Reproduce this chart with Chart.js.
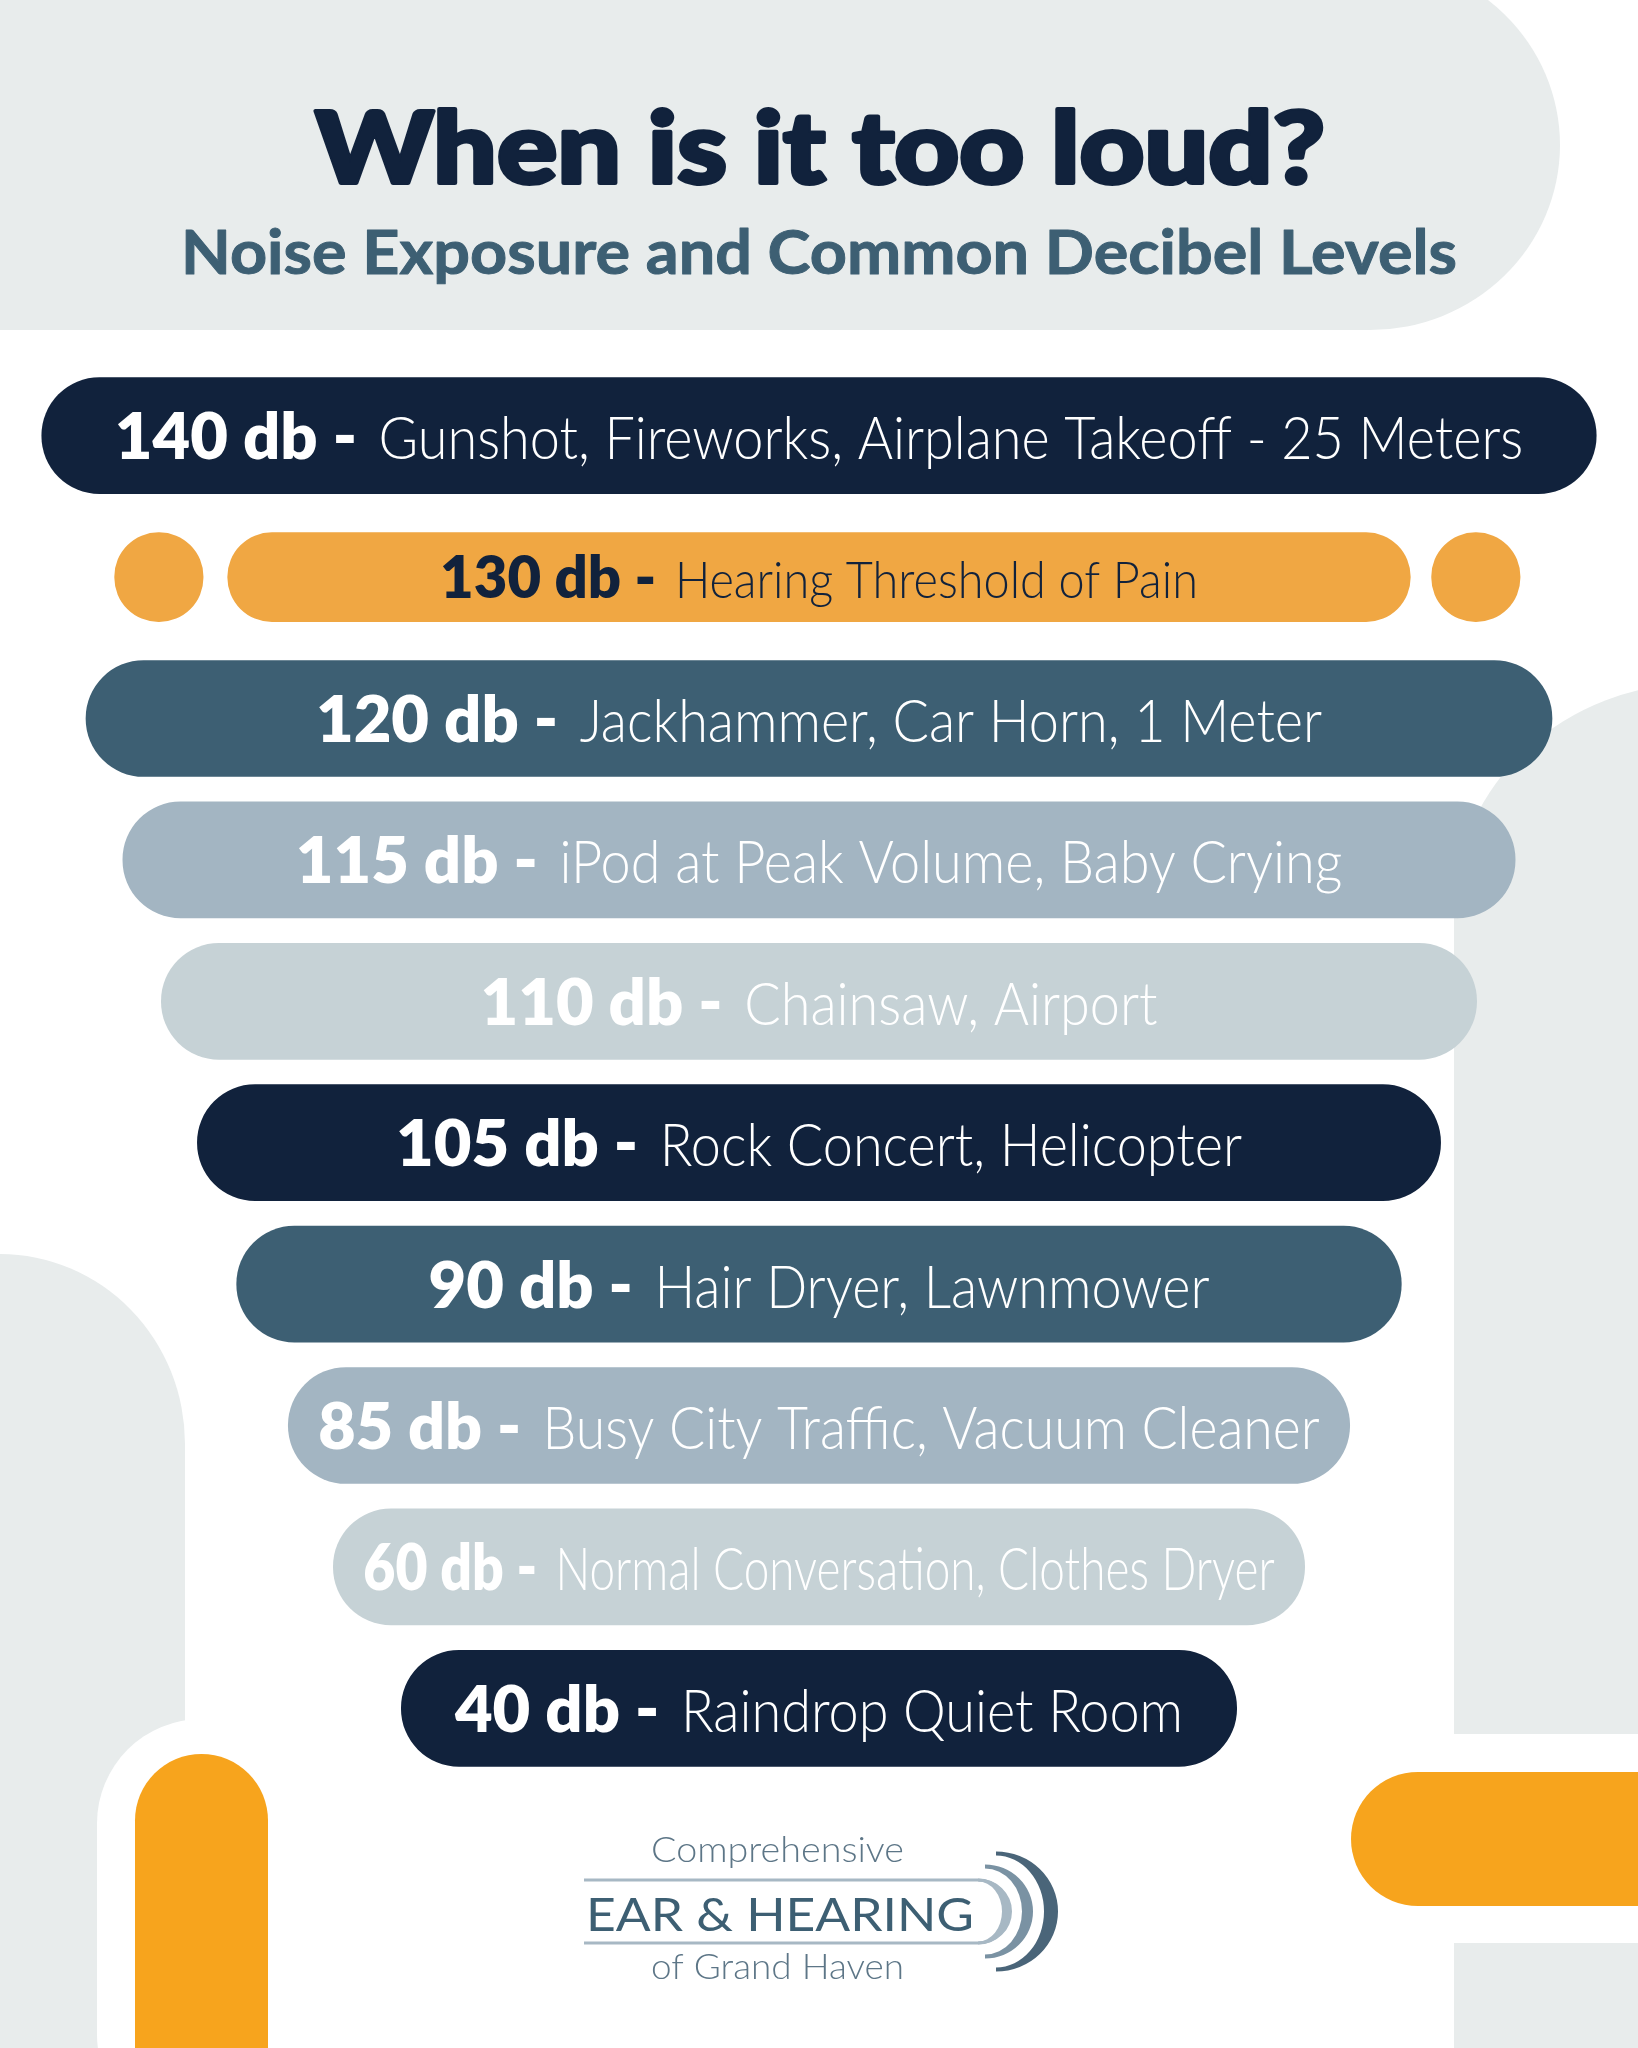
<!DOCTYPE html>
<html>
<head>
<meta charset="utf-8">
<title>When is it too loud?</title>
<script src="https://cdn.jsdelivr.net/npm/chart.js@4.4.0/dist/chart.umd.min.js"></script>
<style>
  html, body { margin: 0; padding: 0; background: #ffffff; }
  #wrap { width: 1638px; height: 2048px; }
</style>
</head>
<body>
<div id="wrap"><canvas id="chart-1" width="1638" height="2048"></canvas></div>
<script>
// rows, loudest first
const levels = ["140 db", "130 db", "120 db", "115 db", "110 db", "105 db", "90 db", "85 db", "60 db", "40 db"];
const sources = [
  "Gunshot, Fireworks, Airplane Takeoff - 25 Meters",
  "Hearing Threshold of Pain",
  "Jackhammer, Car Horn, 1 Meter",
  "iPod at Peak Volume, Baby Crying",
  "Chainsaw, Airport",
  "Rock Concert, Helicopter",
  "Hair Dryer, Lawnmower",
  "Busy City Traffic, Vacuum Cleaner",
  "Normal Conversation, Clothes Dryer",
  "Raindrop Quiet Room"
];
// bar length, % of page width (bars are centred)
const barWidth = [94.9, 72.2, 89.5, 85.0, 80.3, 75.9, 71.1, 64.8, 59.3, 51.0];
// the two dots beside the pain threshold row
const PAIN = "130 db";
const painDots = [[-43.0, -37.6], [37.4, 42.8]];

const TITLE = "When is it too loud?";
const SUBTITLE = "Noise Exposure and Common Decibel Levels";

const barColors = ["#11223c", "#f0a743", "#3d5f73", "#a3b5c2", "#c6d2d6", "#11223c", "#3d5f73", "#a3b5c2", "#c6d2d6", "#11223c"];
const textColors = levels.map(l => l === PAIN ? "#11223c" : "#ffffff");

const span = w => [-w / 2, w / 2];
const mainData = levels.map((l, i) => l === PAIN ? null : span(barWidth[i]));
const painData = levels.map((l, i) => l === PAIN ? span(barWidth[i]) : null);
const dotLeft = levels.map(l => l === PAIN ? painDots[0] : null);
const dotRight = levels.map(l => l === PAIN ? painDots[1] : null);

const FONT = "Lato, 'Open Sans', sans-serif";

function pill(ctx, x, y, w, h, r, color) {
  ctx.beginPath();
  ctx.roundRect(x, y, w, h, r);
  ctx.fillStyle = color;
  ctx.fill();
}

function crescent(ctx, cx, cy, ox, oy, ix, iy, color) {
  ctx.beginPath();
  ctx.ellipse(cx, cy, ox, oy, 0, -Math.PI / 2, Math.PI / 2, false);
  ctx.ellipse(cx, cy, ix, iy, 0, Math.PI / 2, -Math.PI / 2, true);
  ctx.closePath();
  ctx.fillStyle = color;
  ctx.fill();
}

// left-aligned text squeezed/stretched to a given width
function fitText(ctx, text, x, y, width, stroke) {
  const w = ctx.measureText(text).width;
  ctx.save();
  ctx.translate(x, y);
  ctx.scale(width / w, 1);
  if (stroke) {
    ctx.lineJoin = "round";
    ctx.lineWidth = stroke;
    ctx.strokeStyle = ctx.fillStyle;
    ctx.strokeText(text, 0, 0);
  }
  ctx.fillText(text, 0, 0);
  ctx.restore();
}

// background shapes and heading
const decor = {
  id: "decor",
  beforeDraw(chart) {
    const ctx = chart.ctx;
    ctx.save();
    ctx.fillStyle = "#ffffff";
    ctx.fillRect(0, 0, chart.width, chart.height);
    const grey = "#e8ecec";

    // header block
    ctx.beginPath();
    ctx.moveTo(0, -40);
    ctx.lineTo(1370, -40);
    ctx.ellipse(1370, 145, 190, 185, 0, -Math.PI / 2, Math.PI / 2, false);
    ctx.lineTo(0, 330);
    ctx.closePath();
    ctx.fillStyle = grey;
    ctx.fill();

    // right column
    ctx.beginPath();
    ctx.moveTo(1454, 1734);
    ctx.lineTo(1454, 910);
    ctx.ellipse(1700, 910, 246, 227, 0, Math.PI, Math.PI * 1.5, false);
    ctx.lineTo(1700, 1734);
    ctx.closePath();
    ctx.fillStyle = grey;
    ctx.fill();
    ctx.fillRect(1454, 1943, 200, 120);
    pill(ctx, 1351, 1772, 400, 134, 67, "#f7a41d");

    // left column
    ctx.beginPath();
    ctx.moveTo(0, 1254);
    ctx.ellipse(0, 1444, 185, 190, 0, -Math.PI / 2, 0, false);
    ctx.lineTo(185, 2060);
    ctx.lineTo(0, 2060);
    ctx.closePath();
    ctx.fillStyle = grey;
    ctx.fill();
    pill(ctx, 97, 1719, 209, 420, 104.5, "#ffffff");
    pill(ctx, 135, 1754, 133, 400, 66.5, "#f7a41d");

    // heading
    ctx.textAlign = "left";
    ctx.textBaseline = "alphabetic";
    ctx.fillStyle = "#11223c";
    ctx.font = `900 100px ${FONT}`;
    fitText(ctx, TITLE, 315, 183, 1010, 4);
    ctx.fillStyle = "#3d5f73";
    ctx.font = `700 62px ${FONT}`;
    fitText(ctx, SUBTITLE, 181, 274, 1276, 1);
    ctx.restore();
  }
};

// text inside each bar
const rowLabels = {
  id: "rowLabels",
  afterDatasetsDraw(chart) {
    const ctx = chart.ctx;
    levels.forEach((lvl, i) => {
      const bar = chart.getDatasetMeta(lvl === PAIN ? 1 : 0).data[i];
      const cx = (bar.x + bar.base) / 2;
      const room = Math.abs(bar.x - bar.base) - 60;
      const big = lvl === PAIN ? 58 : 65;
      const small = lvl === PAIN ? 52 : 60;
      const sx = 0.9;
      const head = lvl + " -";
      ctx.save();
      ctx.font = `800 ${big}px ${FONT}`;
      const wHead = ctx.measureText(head).width;
      ctx.font = `300 ${small}px ${FONT}`;
      const wTail = ctx.measureText(sources[i]).width * sx;
      const gap = small * 0.36;
      const total = wHead + gap + wTail;
      const k = Math.min(1, room / total);
      const y = bar.y + big * 0.36;
      ctx.translate(cx - total * k / 2, y);
      ctx.scale(k, 1);
      ctx.fillStyle = textColors[i];
      ctx.textAlign = "left";
      ctx.textBaseline = "alphabetic";
      ctx.font = `800 ${big}px ${FONT}`;
      ctx.fillText(head, 0, 0);
      ctx.translate(wHead + gap, 0);
      ctx.scale(sx, 1);
      ctx.font = `300 ${small}px ${FONT}`;
      ctx.fillText(sources[i], 0, 0);
      ctx.restore();
    });
  }
};

// practice logo at the foot
const logo = {
  id: "logo",
  afterDraw(chart) {
    const ctx = chart.ctx;
    ctx.save();
    ctx.textAlign = "left";
    ctx.textBaseline = "alphabetic";
    ctx.fillStyle = "#5d7687";
    ctx.font = `300 35px ${FONT}`;
    fitText(ctx, "Comprehensive", 651, 1862, 253);
    fitText(ctx, "of Grand Haven", 651, 1979, 253);

    ctx.strokeStyle = "#a7b8c4";
    ctx.lineWidth = 3;
    ctx.beginPath();
    ctx.moveTo(584, 1880);
    ctx.lineTo(978, 1880);
    ctx.ellipse(978, 1911.5, 31.5, 31.5, 0, -Math.PI / 2, Math.PI / 2, false);
    ctx.lineTo(584, 1943);
    ctx.stroke();
    crescent(ctx, 978, 1911.5, 34, 33, 24, 30, "#a7b8c4");
    crescent(ctx, 985, 1911.5, 48, 47, 37, 43, "#7a92a3");
    crescent(ctx, 996, 1911.5, 62, 60, 48, 56, "#4a6579");

    ctx.fillStyle = "#3d5f73";
    ctx.font = `400 47px ${FONT}`;
    fitText(ctx, "EAR & HEARING", 586, 1931, 388);
    ctx.restore();
  }
};

const barStyle = { borderRadius: 100, borderSkipped: false, grouped: false };

function draw() {
  const ctx1 = document.getElementById("chart-1").getContext("2d");
  new Chart(ctx1, {
    type: "bar",
    data: {
      labels: levels,
      datasets: [
        Object.assign({ label: "Noise level", data: mainData, backgroundColor: barColors, barThickness: 116 }, barStyle),
        Object.assign({ label: "Threshold of pain", data: painData, backgroundColor: "#f0a743", barThickness: 89 }, barStyle),
        Object.assign({ label: "dot", data: dotLeft, backgroundColor: "#f0a743", barThickness: 89 }, barStyle),
        Object.assign({ label: "dot", data: dotRight, backgroundColor: "#f0a743", barThickness: 89 }, barStyle)
      ]
    },
    options: {
      indexAxis: "y",
      responsive: false,
      animation: false,
      layout: { padding: { top: 365, bottom: 269, left: 0, right: 0 } },
      scales: {
        x: { display: false, min: -50, max: 50 },
        y: { display: false }
      },
      plugins: {
        legend: { display: false },
        tooltip: { enabled: false }
      }
    },
    plugins: [decor, rowLabels, logo]
  });
}

Promise.all([
  document.fonts.load(`900 100px Lato`),
  document.fonts.load(`800 64px Lato`),
  document.fonts.load(`700 64px Lato`),
  document.fonts.load(`400 60px Lato`),
  document.fonts.load(`300 35px Lato`)
]).catch(() => {}).then(draw);
</script>
</body>
</html>
